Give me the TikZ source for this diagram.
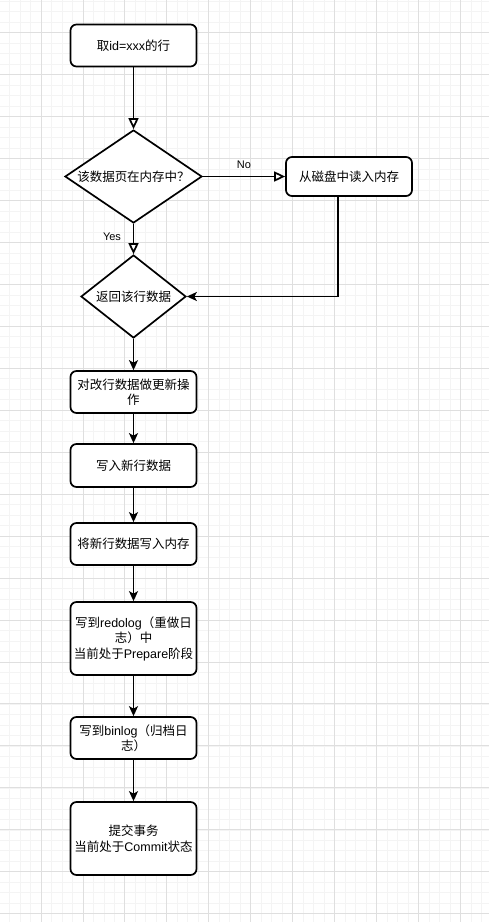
\documentclass[tikz,border=0pt]{standalone}
\usepackage{fontspec}
\setmainfont{Noto Sans CJK SC}
\newfontfamily\latfont{Liberation Sans}
\newcommand{\lat}[1]{{\latfont #1}}
\newcommand{\flowfont}{\fontsize{12.5}{15.5}\selectfont}
\usetikzlibrary{shapes.geometric, arrows.meta, positioning}
\usepackage{xcolor}
\definecolor{FlowLine}{HTML}{000000}
\definecolor{FlowFill}{HTML}{FFFFFF}
\definecolor{GridMinor}{HTML}{F4F4F4}
\definecolor{GridMajor}{HTML}{DFDFDF}
\tikzset{
    % Box styles - rounded corners
    stepbox/.style={
        rectangle,
        rounded corners=6pt,
        draw=FlowLine,
        fill=FlowFill,
        line width=1.7pt,
        minimum width=126pt,
        minimum height=42pt,
        inner sep=2pt,
        align=center,
        font=\flowfont
    },
    check/.style={
        diamond,
        draw=FlowLine,
        fill=FlowFill,
        line width=1.7pt,
        inner sep=0pt,
        aspect=1.5,
        align=center,
        font=\flowfont
    },
    edgetext/.style={
        font=\latfont\fontsize{11}{13}\selectfont,
        inner sep=0pt
    },
    % Grid styles
    minorgrid/.style={draw=GridMinor, line width=0.9pt},
    majorgrid/.style={draw=GridMajor, line width=0.9pt},
    % Arrow styles - straight lines only
    openarrow/.style={
        -{Triangle[open, length=11pt, width=10pt]},
        line width=1.7pt,
        draw=FlowLine
    },
    arrow/.style={
        -{Stealth[length=10pt, width=9pt, inset=2.5pt]},
        line width=1.7pt,
        draw=FlowLine
    }
}

\begin{document}
\begin{tikzpicture}[x=1pt, y=-1pt]
    \useasboundingbox (0,0) rectangle (489,922);
    \fill[white] (0,0) rectangle (489,922);

    % background grid
    \foreach \i in {0,...,47} {\draw[minorgrid] ({-0.95+10.49*\i},0) -- ++(0,922);}
    \foreach \i in {0,...,89} {\draw[minorgrid] (0,{-9.25+10.49*\i}) -- ++(489,0);}
    \foreach \i in {0,...,11} {\draw[majorgrid] ({-0.95+41.95*\i},0) -- ++(0,922);}
    \foreach \i in {0,...,22} {\draw[majorgrid] (0,{-9.25+41.95*\i}) -- ++(489,0);}

    \node[stepbox] (get) at (133.5,45.5) {取\lat{id=xxx}的行};

    \node[check, minimum width=137pt, minimum height=93pt] (inmem) at (133.5,176.5) {该数据页在内存中？};
    \node[stepbox, minimum height=39pt] (load) at (349,176.5) {从磁盘中读入内存};

    \node[check, minimum width=105pt, minimum height=83pt] (ret) at (133.5,296.5) {返回该行数据};

    \node[stepbox] (update) at (133.5,392) {对改行数据做更新操\\作};
    \node[stepbox, minimum height=43pt] (newrow) at (133.5,465.5) {写入新行数据};
    \node[stepbox] (tomem) at (133.5,544) {将新行数据写入内存};
    \node[stepbox, minimum height=73pt] (redo) at (133.5,638.5) {写到\lat{redolog}（重做日\\志）中\\当前处于\lat{Prepare}阶段};
    \node[stepbox] (binlog) at (133.5,738) {写到\lat{binlog}（归档日\\志）};
    \node[stepbox, minimum height=73pt] (commit) at (133.5,838.5) {提交事务\\当前处于\lat{Commit}状态};

    \node[edgetext] (no) at (244,165) {No};
    \node[edgetext] (yes) at (112,237) {Yes};

    \draw[openarrow] (get) -- (inmem);
    \draw[openarrow] (inmem.east) -- (load.west);
    \draw[openarrow] (inmem) -- (ret);
    \draw[arrow] ([xshift=-11pt]load.south) |- (ret.east);
    \draw[arrow] (ret) -- (update);
    \draw[arrow] (update) -- (newrow);
    \draw[arrow] (newrow) -- (tomem);
    \draw[arrow] (tomem) -- (redo);
    \draw[arrow] (redo) -- (binlog);
    \draw[arrow] (binlog) -- (commit);
\end{tikzpicture}
\end{document}
